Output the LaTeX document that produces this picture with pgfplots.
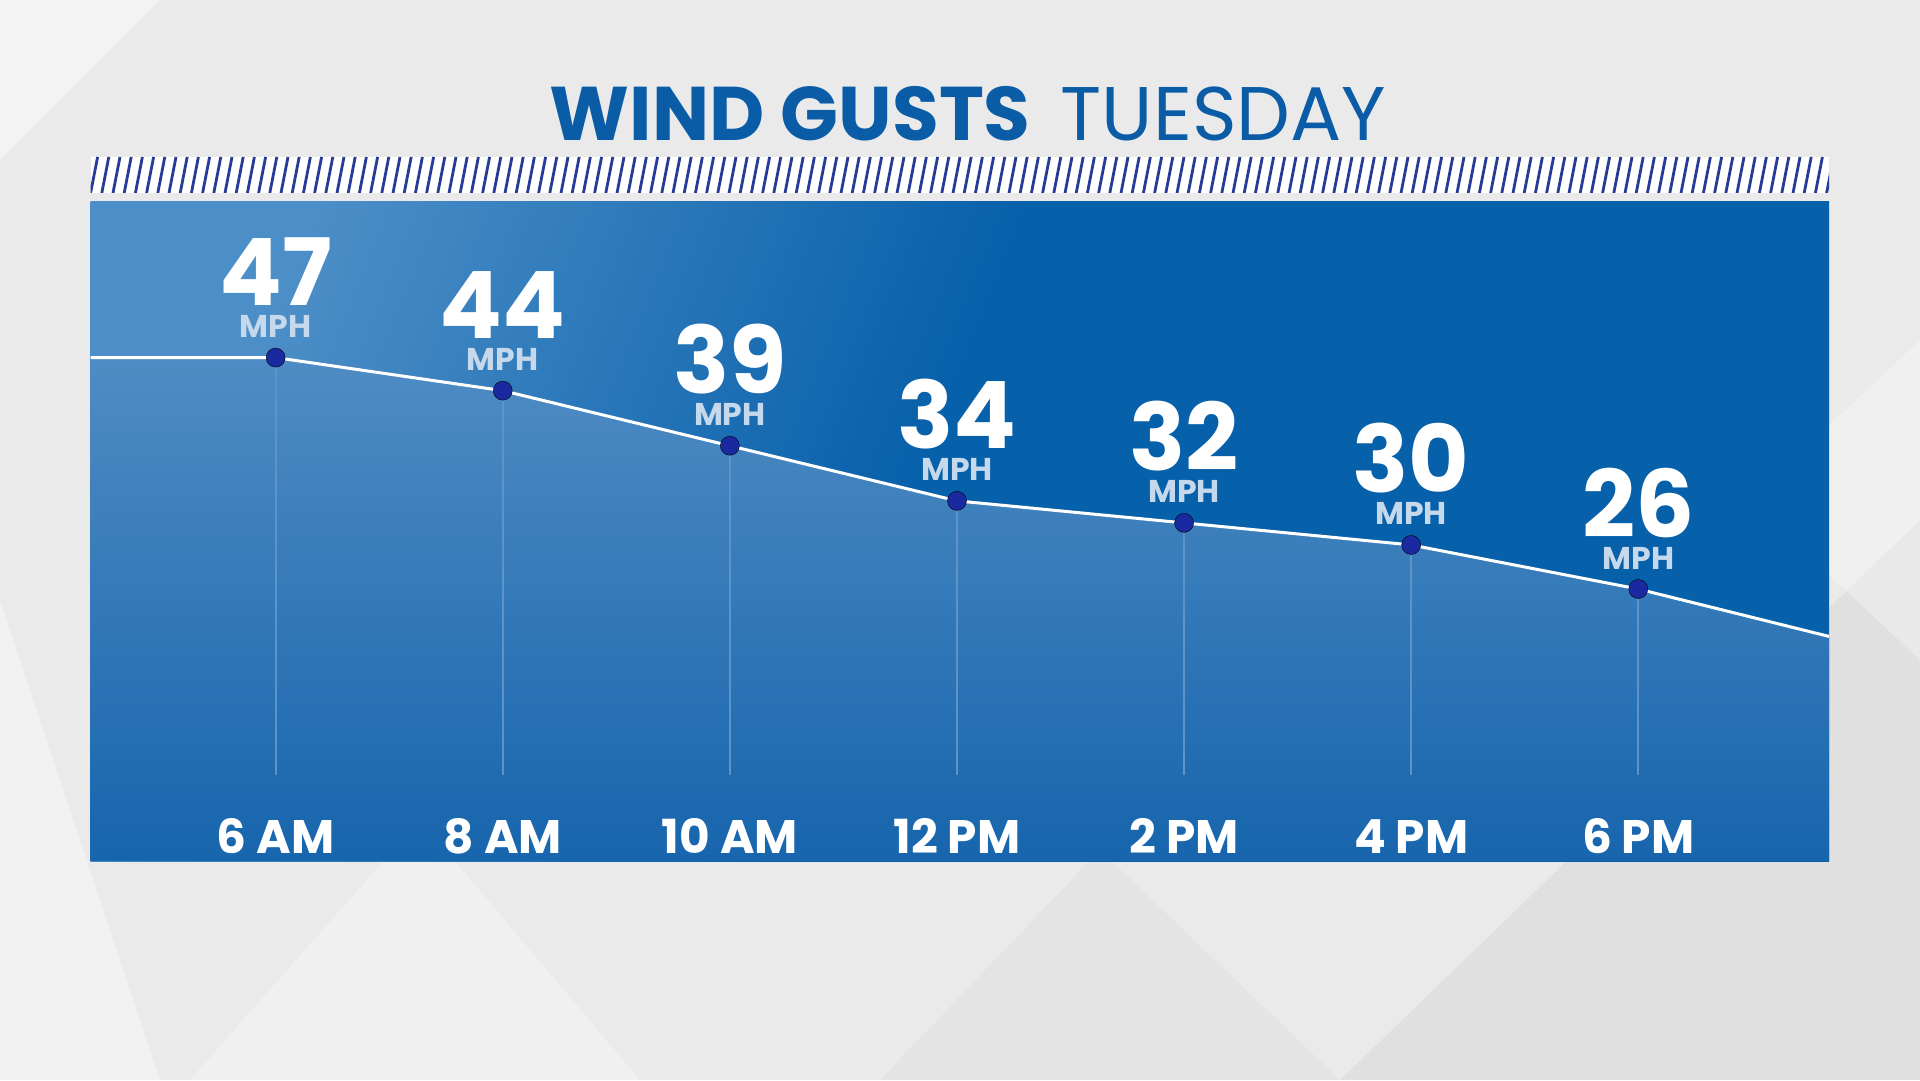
\documentclass[border=0pt]{standalone}
\usepackage{fontspec}
\setmainfont{Poppins}
\usepackage{pgfplots}
\usepackage{pgfplotstable}
\pgfplotsset{compat=1.18}

\definecolor{titleblue}{HTML}{0B5CA7}
\definecolor{pd}{HTML}{0760AA}
\definecolor{pl}{HTML}{4C8EC7}
\definecolor{areatop}{HTML}{4F8CC4}
\definecolor{areabot}{HTML}{1765AD}
\definecolor{dotc}{HTML}{1B29A1}
\definecolor{dropc}{HTML}{5C93C8}
\definecolor{mphc}{HTML}{C6D8EC}
\definecolor{hatchc}{HTML}{263C95}
\definecolor{bgc}{HTML}{EAEAEA}

\pgfdeclarehorizontalshading{panelshade}{100bp}{color(0bp)=(pl); color(25bp)=(pl); color(48bp)=(pd); color(100bp)=(pd)}

% gusts at each label time (hours, mph)
\pgfplotstableread{
x y
6 47
8 44
10 39
12 34
14 32
16 30
18 26
}\gusts

% the curve runs to both panel edges
\pgfplotstableread{
x y
4.37 47
6 47
8 44
10 39
12 34
14 32
16 30
18 26
19.68 21.7
}\gustline

\begin{document}
\begin{tikzpicture}[x=1pt,y=1pt]
\useasboundingbox (0,0) rectangle (1920,1080);
% backdrop
\fill[bgc] (0,0) rectangle (1920,1080);
\fill[white,opacity=0.45] (0,1080) -- (160,1080) -- (0,920) -- cycle;
\fill[white,opacity=0.35] (0,480) -- (160,0) -- (0,0) -- cycle;
\fill[white,opacity=0.3] (190,0) -- (640,0) -- (420,260) -- cycle;
\fill[black,opacity=0.04] (1340,0) -- (1920,560) -- (1920,0) -- cycle;
\fill[black,opacity=0.025] (880,0) -- (1340,0) -- (1100,230) -- cycle;
\fill[white,opacity=0.3] (1750,580) -- (1920,740) -- (1920,420) -- cycle;

% hatched band
\fill[white] (90.6,887) rectangle (1829,923);
\begin{scope}
\clip (90.6,887) rectangle (1829,923);
\foreach \i in {-2,...,160}
  \draw[hatchc, line width=2.8pt] ({90.6+\i*11.2},887) -- ++(7,36);
\end{scope}

% title
\node[anchor=base, text=titleblue, inner sep=0pt] at (968,939)
  {\fontsize{76}{76}\selectfont\bfseries WIND GUSTS\hspace{30pt}\mdseries TUESDAY};

\begin{axis}[
    at={(90.6pt,219pt)}, anchor=south west,
    scale only axis,
    width=1738.4pt, height=659pt,
    xmin=4.37, xmax=19.68,
    ymin=1.32, ymax=61.12,
    axis on top,
    axis line style={draw=none},
    axis background/.style={shade, shading=panelshade, shading angle=-22},
    major tick length=0pt,
    ytick=\empty,
    xtick={6,8,10,12,14,16,18},
    xticklabels={6 AM, 8 AM, 10 AM, 12 PM, 2 PM, 4 PM, 6 PM},
    xticklabel style={anchor=base, yshift=8pt, text=white,
        font=\fontsize{47}{47}\selectfont\bfseries},
    /pgf/number format/assume math mode=true,
]
    % area under the curve
    \addplot[draw=none, top color=areatop, bottom color=areabot]
        table[x=x, y=y] {\gustline} \closedcycle;

    % drop lines from each reading
    \addplot[dropc, line width=2pt, no marks,
        quiver={u=0, v={9.1-\thisrow{y}}}]
        table[x=x, y=y] {\gusts};

    % curve
    \addplot[white, line width=3pt, no marks] table[x=x, y=y] {\gustline};

    % readings
    \addplot[only marks, mark=*, mark size=9.5pt, mark options={fill=dotc, draw=none}]
        table[x=x, y=y] {\gusts};

    % MPH
    \addplot[draw=none, no marks, point meta=y,
        nodes near coords={MPH},
        every node near coord/.append style={anchor=base, yshift=20pt,
            inner sep=0pt, text=mphc, font=\fontsize{31.5}{32}\selectfont\bfseries}]
        table[x=x, y=y] {\gusts};

    % values
    \addplot[draw=none, no marks, point meta=y,
        nodes near coords={\pgfmathprintnumber{\pgfplotspointmeta}},
        every node near coord/.append style={anchor=base, yshift=52pt,
            inner sep=0pt, text=white, font=\fontsize{93}{93}\selectfont\bfseries}]
        table[x=x, y=y] {\gusts};
\end{axis}
\end{tikzpicture}
\end{document}
